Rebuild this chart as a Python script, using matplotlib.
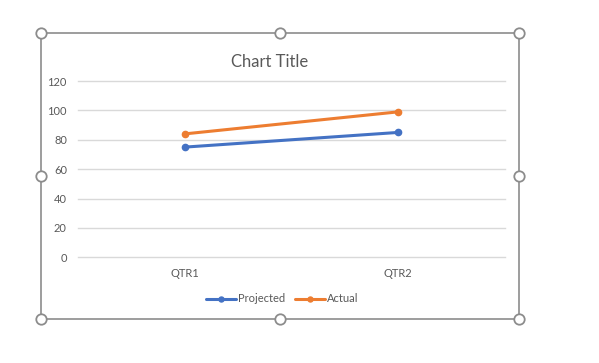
import matplotlib.pyplot as plt
from matplotlib.patches import Rectangle

categories = ['QTR1', 'QTR2']
projected = [75, 85]
actual = [84, 99]
y_ticks = [0, 20, 40, 60, 80, 100, 120]

W, H = 599, 363
text_color = '#595959'


def main():
    plt.rcParams['font.family'] = ['Lato', 'DejaVu Sans']
    fig = plt.figure(figsize=(W / 100, H / 100), dpi=100)
    fig.patch.set_facecolor('white')

    # plot area in pixel terms
    left, right, top, bottom = 78, 505, 81, 257.3
    ax = fig.add_axes([left / W, 1 - bottom / H, (right - left) / W, (bottom - top) / H])

    x = list(range(len(categories)))
    ax.plot(x, projected, color='#4472C4', lw=2.2, marker='o', ms=4.5,
            label='Projected', solid_capstyle='round', zorder=3)
    ax.plot(x, actual, color='#ED7D31', lw=2.2, marker='o', ms=4.5,
            label='Actual', solid_capstyle='round', zorder=3)

    ax.set_xlim(-0.5, len(categories) - 0.5)
    ax.set_ylim(0, 120)
    ax.set_yticks(y_ticks)
    ax.set_xticks(x)
    ax.set_xticklabels(categories)
    ax.yaxis.grid(True, color='#D9D9D9', lw=1)
    for g in ax.get_ygridlines():
        g.set_clip_on(False)
    ax.set_axisbelow(True)
    for s in ax.spines.values():
        s.set_visible(False)
    ax.tick_params(axis='both', length=0, labelsize=8, labelcolor=text_color)
    ax.tick_params(axis='y', pad=8)
    ax.tick_params(axis='x', pad=8)

    fig.text(270 / W, 1 - 62 / H, 'Chart Title', ha='center', va='center',
             fontsize=12, color=text_color)

    leg = fig.legend(loc='center', bbox_to_anchor=(282 / W, 1 - 299 / H), ncol=2,
                     frameon=False, fontsize=8, handlelength=2.7, handletextpad=0.15,
                     columnspacing=0.9, markerscale=0.8)
    for t in leg.get_texts():
        t.set_color(text_color)

    # selection frame with handles
    over = fig.add_axes([0, 0, 1, 1], zorder=10)
    over.set_xlim(0, W)
    over.set_ylim(H, 0)
    over.axis('off')
    over.patch.set_alpha(0)
    over.add_patch(Rectangle((41, 33), 478, 286, fill=False, edgecolor='#8C8C8C', lw=1.2))
    hx = [41, 280, 519, 41, 519, 41, 280, 519]
    hy = [33, 33, 33, 176, 176, 319, 319, 319]
    over.plot(hx, hy, ls='none', marker='o', ms=7.5, mfc='white', mec='#8C8C8C', mew=1.3)

    fig.savefig('out.png', dpi=100)


if __name__ == '__main__':
    main()
